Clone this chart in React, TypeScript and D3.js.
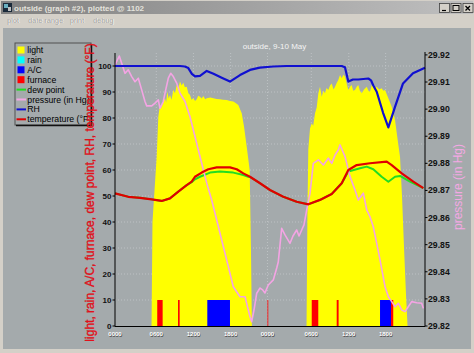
import React from "react";
import * as d3 from "d3";

const W = 474;
const H = 353;
const FONT = "'Liberation Sans', Arial, sans-serif";

const leftTicks = [0, 10, 20, 30, 40, 50, 60, 70, 80, 90, 100];
const rightTicks = [29.82, 29.83, 29.84, 29.85, 29.86, 29.87, 29.88, 29.89, 29.9, 29.91, 29.92];
const xTickHours = [0, 6.5, 12.35, 18.2, 24, 30.9, 36.8, 42.6];
const xTickLabels = ["0000", "0600", "1200", "1800", "0000", "0600", "1200", "1800"];

const legendLabels = ["light", "rain", "A/C", "furnace", "dew point", "pressure (in Hg)", "RH", "temperature (°F)"];
const legendColors = ["#ffff00", "#00ffff", "#0000ff", "#ff0000", "#22dd22", "#f4a4e4", "#1010d0", "#e00000"];
const legendKinds = ["box", "box", "box", "box", "line", "line", "line", "line"];

// [hour, value]
const lightData: [number, number][] = [
  [0, 0], [5.75, 0], [5.9, 40], [6.56, 65], [6.82, 80.5], [7.08, 85], [7.3, 84], [7.6, 86.3], [7.87, 87.6],
  [8.05, 86], [8.23, 90.1], [8.45, 87.5], [8.66, 88.8], [8.9, 87], [9.18, 90.8], [9.45, 89.5], [9.71, 92.7],
  [10.0, 91.5], [10.23, 94], [10.5, 92.5], [10.75, 93.6], [11.0, 91.8], [11.29, 92], [11.55, 89.5], [11.81, 88.8],
  [12.05, 87], [12.33, 87.6], [12.6, 86.5], [12.86, 87.2], [13.1, 88.6], [13.38, 88.2], [13.65, 87.5], [13.9, 88.5],
  [14.2, 87.2], [14.44, 87.6], [15.0, 87.9], [15.48, 87.6], [16.0, 87.3], [16.53, 87.2], [17.0, 87.0], [17.58, 86.9],
  [18.1, 86.5], [18.62, 86.3], [19.0, 85.8], [19.41, 85], [19.95, 81.8], [20.31, 76.7], [20.73, 69], [21.2, 60],
  [21.4, 30], [21.55, 0], [30.15, 0], [30.3, 45], [30.43, 68], [30.7, 76], [30.97, 78], [31.2, 77], [31.49, 81.8],
  [31.75, 84], [32.01, 89.5], [32.27, 92], [32.54, 88.2], [32.8, 90.5], [33.06, 89.5], [33.3, 91.5], [33.58, 90.8],
  [33.85, 92.5], [34.12, 93.3], [34.4, 91], [34.64, 92], [34.9, 93.5], [35.15, 94.6], [35.42, 96.5], [35.69, 95.3],
  [35.95, 96.6], [36.21, 95.9], [36.5, 93], [36.73, 90.8], [37.0, 92], [37.26, 92.7], [37.5, 90.5], [37.78, 90.8],
  [38.05, 92], [38.3, 92.7], [38.55, 90.5], [38.84, 89.5], [39.2, 91], [39.63, 92], [39.9, 90.5], [40.14, 90.1],
  [40.4, 92.5], [40.66, 93.3], [40.9, 91.5], [41.2, 92], [41.6, 91], [41.98, 91.4], [42.25, 90.5], [42.51, 90.8],
  [43.03, 87.6], [43.56, 84.3], [44.08, 79.2], [44.5, 71.5], [44.87, 65], [45.18, 50], [45.5, 30], [45.81, 12],
  [46.05, 0], [48.8, 0],
];

const pressureData: [number, number][] = [
  [0, 29.9163], [0.68, 29.9196], [1.05, 29.9169], [1.57, 29.9132], [2.09, 29.9145], [2.63, 29.912], [3.15, 29.9101],
  [3.67, 29.9114], [4.2, 29.9071], [4.72, 29.9028], [4.99, 29.9012], [5.78, 29.9012], [6.3, 29.9022], [6.82, 29.9034],
  [7.08, 29.9003], [7.6, 29.9028], [7.87, 29.9059], [8.39, 29.9114], [8.77, 29.9132], [9.18, 29.912], [9.71, 29.9096],
  [10.23, 29.9059], [11.02, 29.9028], [11.81, 29.8972], [12.59, 29.8899], [13.38, 29.8825], [14.44, 29.8727],
  [15.22, 29.8665], [16.01, 29.8591], [17.05, 29.8493], [17.84, 29.8419], [18.62, 29.8345], [19.68, 29.8308],
  [20.47, 29.8308], [21.25, 29.8234], [21.52, 29.8216], [21.88, 29.8259], [22.31, 29.8321], [22.83, 29.834],
  [23.25, 29.8333], [23.61, 29.8322], [24.13, 29.8351], [24.92, 29.837], [25.46, 29.8414], [25.7, 29.8436],
  [26.24, 29.856], [26.76, 29.8536], [27.55, 29.8505], [28.02, 29.8532], [28.6, 29.8554], [28.97, 29.8532],
  [29.39, 29.8554], [29.75, 29.8573], [30.18, 29.8628], [30.7, 29.869], [31.22, 29.88], [32.01, 29.8813],
  [32.79, 29.8794], [33.58, 29.8819], [34.12, 29.88], [34.64, 29.8831], [35.15, 29.8849], [35.42, 29.8868],
  [35.9, 29.8842], [36.21, 29.8825], [37.0, 29.8751], [37.78, 29.8702], [38.3, 29.8665], [39.09, 29.869],
  [39.63, 29.8628], [40.14, 29.8603], [40.66, 29.8566], [41.2, 29.8505], [41.72, 29.8444], [42.51, 29.8345],
  [43.03, 29.8308], [43.56, 29.829], [44.08, 29.8271], [44.6, 29.8284], [45.14, 29.8259], [45.66, 29.8253],
  [46.17, 29.8271], [46.71, 29.829], [47.5, 29.8286], [48.28, 29.8284], [48.54, 29.8265],
];

const rhData: [number, number][] = [
  [0, 100], [10.23, 100], [11.0, 99.8], [11.54, 99.2], [12.1, 97], [12.6, 96], [13.38, 96.2], [14.44, 98.1],
  [15.5, 97], [16.8, 95.5], [18.1, 94], [19.68, 96.5], [21.25, 98.5], [22.8, 99.4], [24.9, 99.8], [27, 100],
  [35.69, 100], [36.2, 99.5], [36.73, 94], [37.47, 94.8], [38.3, 94.8], [39.88, 95.2], [40.3, 94.5], [40.66, 92.5],
  [41.2, 90.1], [42.2, 82], [43.03, 76.4], [44.08, 84.3], [45.34, 93.3], [46.91, 97.2], [48.8, 99.3],
];

const tempData: [number, number][] = [
  [0, 51], [2.09, 49.7], [3.94, 49.3], [5.78, 48.7], [7.35, 48.1], [8.66, 49.1], [9.97, 51.7], [11.29, 54.2],
  [12.07, 55.5], [12.59, 57.4], [13.65, 59], [14.69, 60.3], [16.01, 61], [18.1, 61], [19.16, 60.3], [20.2, 58.7],
  [21.25, 57.4], [22.83, 54.9], [24.4, 52.3], [26.5, 49.7], [28.6, 47.8], [30.43, 46.8], [32.27, 48.5],
  [34.12, 50.8], [35.69, 54.9], [36.73, 60], [38.05, 61.9], [40.14, 62.6], [42.77, 63.2], [43.56, 61.9],
  [45.14, 58.7], [46.96, 55.5], [48.54, 53],
];

const dewData: [number, number][] = [
  [0, 51], [2.09, 49.7], [3.94, 49.3], [5.78, 48.7], [7.35, 48.1], [8.66, 49.1], [9.97, 51.7], [11.29, 54.2],
  [12.07, 55.3], [12.59, 56.4], [13.38, 57.4], [14.96, 59], [16.53, 59.4], [18.62, 59], [20.2, 58.1], [20.99, 57.4],
  [21.25, 57.3], [22.83, 54.9], [24.4, 52.3], [26.5, 49.7], [28.6, 47.8], [30.43, 46.8], [32.27, 48.5],
  [34.12, 50.8], [35.69, 54.9], [36.73, 59.4], [38.57, 60.7], [39.63, 61.3], [40.66, 60.3], [41.98, 57.4],
  [43.03, 55.5], [44.08, 57.4], [44.87, 57.7], [46.44, 55.5], [48.54, 53],
];

// [start hour, end hour, value]
const rainIntervals: [number, number, number][] = [];
const acIntervals: [number, number, number][] = [[14.53, 18.1, 10], [41.72, 43.45, 10]];
const furnaceIntervals: [number, number, number][] = [
  [6.65, 7.5, 10], [9.92, 10.18, 10], [24.0, 24.12, 10], [30.97, 32.0, 10], [34.9, 35.2, 10], [43.45, 43.8, 10],
];

export default function App() {
  const x = d3.scaleLinear().domain([0, 48.8]).range([115, 425]);
  const yL = d3.scaleLinear().domain([0, 105]).range([326, 53]);
  const yR = d3.scaleLinear().domain([29.82, 29.9207]).range([326, 53]);

  const lineL = d3.line<[number, number]>().x((d) => x(d[0])).y((d) => yL(d[1]));
  const lineR = d3.line<[number, number]>().x((d) => x(d[0])).y((d) => yR(d[1]));
  const areaL = d3
    .area<[number, number]>()
    .x((d) => x(d[0]))
    .y0(yL(0))
    .y1((d) => yL(d[1]));

  const bars = (arr: [number, number, number][], color: string, key: string) =>
    arr.map((d, i) => (
      <rect
        key={key + i}
        x={x(d[0])}
        y={yL(d[2])}
        width={Math.max(0.8, x(d[1]) - x(d[0]))}
        height={yL(0) - yL(d[2])}
        fill={color}
      />
    ));

  return (
    <svg
      width={W}
      height={H}
      viewBox={`0 0 ${W} ${H}`}
      style={{ position: "absolute", left: 0, top: 0, display: "block" }}
      fontFamily={FONT}
    >
      <defs>
        <linearGradient id="tb" x1="0" x2="1" y1="0" y2="0">
          <stop offset="0" stopColor="#808080" />
          <stop offset="1" stopColor="#c0c0c0" />
        </linearGradient>
        <clipPath id="legclip">
          <rect x={15} y={43} width={75} height={82} />
        </clipPath>
      </defs>

      {/* window frame */}
      <rect x={0} y={0} width={W} height={H} fill="#d4d0c8" />
      <rect x={1} y={1} width={W - 2} height={13} fill="url(#tb)" />
      <rect x={3} y={3} width={9} height={9} fill="#1a2a3a" />
      <rect x={4} y={4} width={4} height={4} fill="#6ab0c0" />
      <rect x={8} y={7} width={3} height={4} fill="#c0c0c0" />
      <text x={14} y={11} fontSize={8} fontWeight="bold" fill="#e4e2dc">
        outside (graph #2), plotted @ 1102
      </text>
      {[439.5, 451, 463].map((bx, i) => (
        <g key={"btn" + i}>
          <rect x={bx} y={3.5} width={10} height={9} fill="#d4d0c8" stroke="#404040" strokeWidth={0.8} />
        </g>
      ))}
      <line x1={442} y1={10.5} x2={446} y2={10.5} stroke="#000" strokeWidth={1.2} />
      <rect x={453} y={5.5} width={6} height={5} fill="none" stroke="#000" strokeWidth={1} />
      <path d="M465.5,6 L470,10.5 M470,6 L465.5,10.5" stroke="#000" strokeWidth={1.3} />

      {/* menu */}
      {[
        ["plot", 7.3],
        ["date range", 28.3],
        ["print", 70],
        ["debug", 93.3],
      ].map(([t, mx]) => (
        <g key={t as string}>
          <text x={(mx as number) + 0.7} y={23.2} fontSize={7.3} fill="#ffffff">
            {t}
          </text>
          <text x={mx as number} y={22.5} fontSize={7.3} fill="#a4a4a0">
            {t}
          </text>
        </g>
      ))}

      {/* panel */}
      <rect x={3} y={28} width={468} height={321} fill="#a4aaac" />

      {/* grid */}
      {leftTicks.slice(1).map((t) => (
        <line key={"hg" + t} x1={115} x2={425} y1={yL(t)} y2={yL(t)} stroke="#c4c8ca" strokeWidth={0.8} strokeDasharray="1,2" />
      ))}
      {xTickHours.slice(1).map((h, i) => (
        <line key={"vg" + i} x1={x(h)} x2={x(h)} y1={53} y2={326} stroke="#c4c8ca" strokeWidth={0.8} strokeDasharray="1,2" />
      ))}

      {/* title */}
      <text x={274.5} y={49} fontSize={8} fill="#f4f4f4" textAnchor="middle">
        outside, 9-10 May
      </text>

      {/* series */}
      <path d={areaL(lightData) || ""} fill="#ffff00" />
      {bars(rainIntervals, "#00ffff", "rain")}
      {bars(acIntervals, "#0000ff", "ac")}
      {bars(furnaceIntervals, "#ff0000", "fur")}
      <path d={lineL(dewData) || ""} fill="none" stroke="#22dd22" strokeWidth={2} strokeLinejoin="round" />
      <path d={lineR(pressureData) || ""} fill="none" stroke="#f4a4e4" strokeWidth={1.6} strokeLinejoin="round" />
      <path d={lineL(rhData) || ""} fill="none" stroke="#1010d0" strokeWidth={2.2} strokeLinejoin="round" />
      <path d={lineL(tempData) || ""} fill="none" stroke="#e00000" strokeWidth={2.2} strokeLinejoin="round" />

      {/* axes */}
      <line x1={115} x2={115} y1={53} y2={326.5} stroke="#000" strokeWidth={1} />
      <line x1={425} x2={425} y1={52} y2={326.5} stroke="#000" strokeWidth={1} />
      <line x1={115} x2={425} y1={326.5} y2={326.5} stroke="#000" strokeWidth={1} />
      {leftTicks.map((t) => (
        <g key={"lt" + t}>
          <line x1={112.5} x2={115} y1={yL(t)} y2={yL(t)} stroke="#000" strokeWidth={1} />
          <text x={111.5} y={yL(t) + 2.9} fontSize={8} fontWeight="bold" textAnchor="end" fill="#111">
            {t}
          </text>
        </g>
      ))}
      {rightTicks.map((t) => (
        <g key={"rt" + t}>
          <line x1={425} x2={427.5} y1={yR(t)} y2={yR(t)} stroke="#000" strokeWidth={1} />
          <text x={428} y={yR(t) + 3} fontSize={8.7} fontWeight="bold" fill="#111">
            {t.toFixed(2)}
          </text>
        </g>
      ))}
      {xTickHours.map((h, i) => (
        <g key={"xt" + i}>
          <text x={x(h) + 0.6} y={336.6} fontSize={6} fontWeight="bold" textAnchor="middle" fill="#505050">
            {xTickLabels[i]}
          </text>
          <text x={x(h)} y={336} fontSize={6} fontWeight="bold" textAnchor="middle" fill="#ffffff">
            {xTickLabels[i]}
          </text>
        </g>
      ))}

      {/* axis titles */}
      <text
        transform={`translate(461.5, 187) rotate(-90)`}
        fontSize={12}
        fill="#f4a8e4"
        textAnchor="middle"
      >
        pressure (in Hg)
      </text>

      {/* legend */}
      <rect x={15} y={43} width={76} height={82} fill="#a4aaac" stroke="#505050" strokeWidth={1} />
      <line x1={16} x2={92} y1={125.5} y2={125.5} stroke="#111" strokeWidth={1.5} />
      <line x1={91.5} x2={91.5} y1={44} y2={126} stroke="#111" strokeWidth={1.5} />
      <g clipPath="url(#legclip)">
        {legendLabels.map((lab, i) => {
          const cy = 50 + i * 9.9;
          return (
            <g key={"lg" + i}>
              {legendKinds[i] === "box" ? (
                <rect x={17.5} y={cy - 3.5} width={7} height={7} fill={legendColors[i]} />
              ) : (
                <line x1={16.5} x2={26} y1={cy} y2={cy} stroke={legendColors[i]} strokeWidth={2} />
              )}
              <text x={27.3} y={cy + 3} fontSize={8.7} fill="#000">
                {lab}
              </text>
            </g>
          );
        })}
      </g>

      <text
        transform={`translate(93.5, 192.5) rotate(-90)`}
        fontSize={12}
        fill="#e8101a"
        stroke="#d8101a"
        strokeWidth={0.35}
        textAnchor="middle"
      >
        light, rain, A/C, furnace, dew point, RH, temperature (°F)
      </text>
    </svg>
  );
}
